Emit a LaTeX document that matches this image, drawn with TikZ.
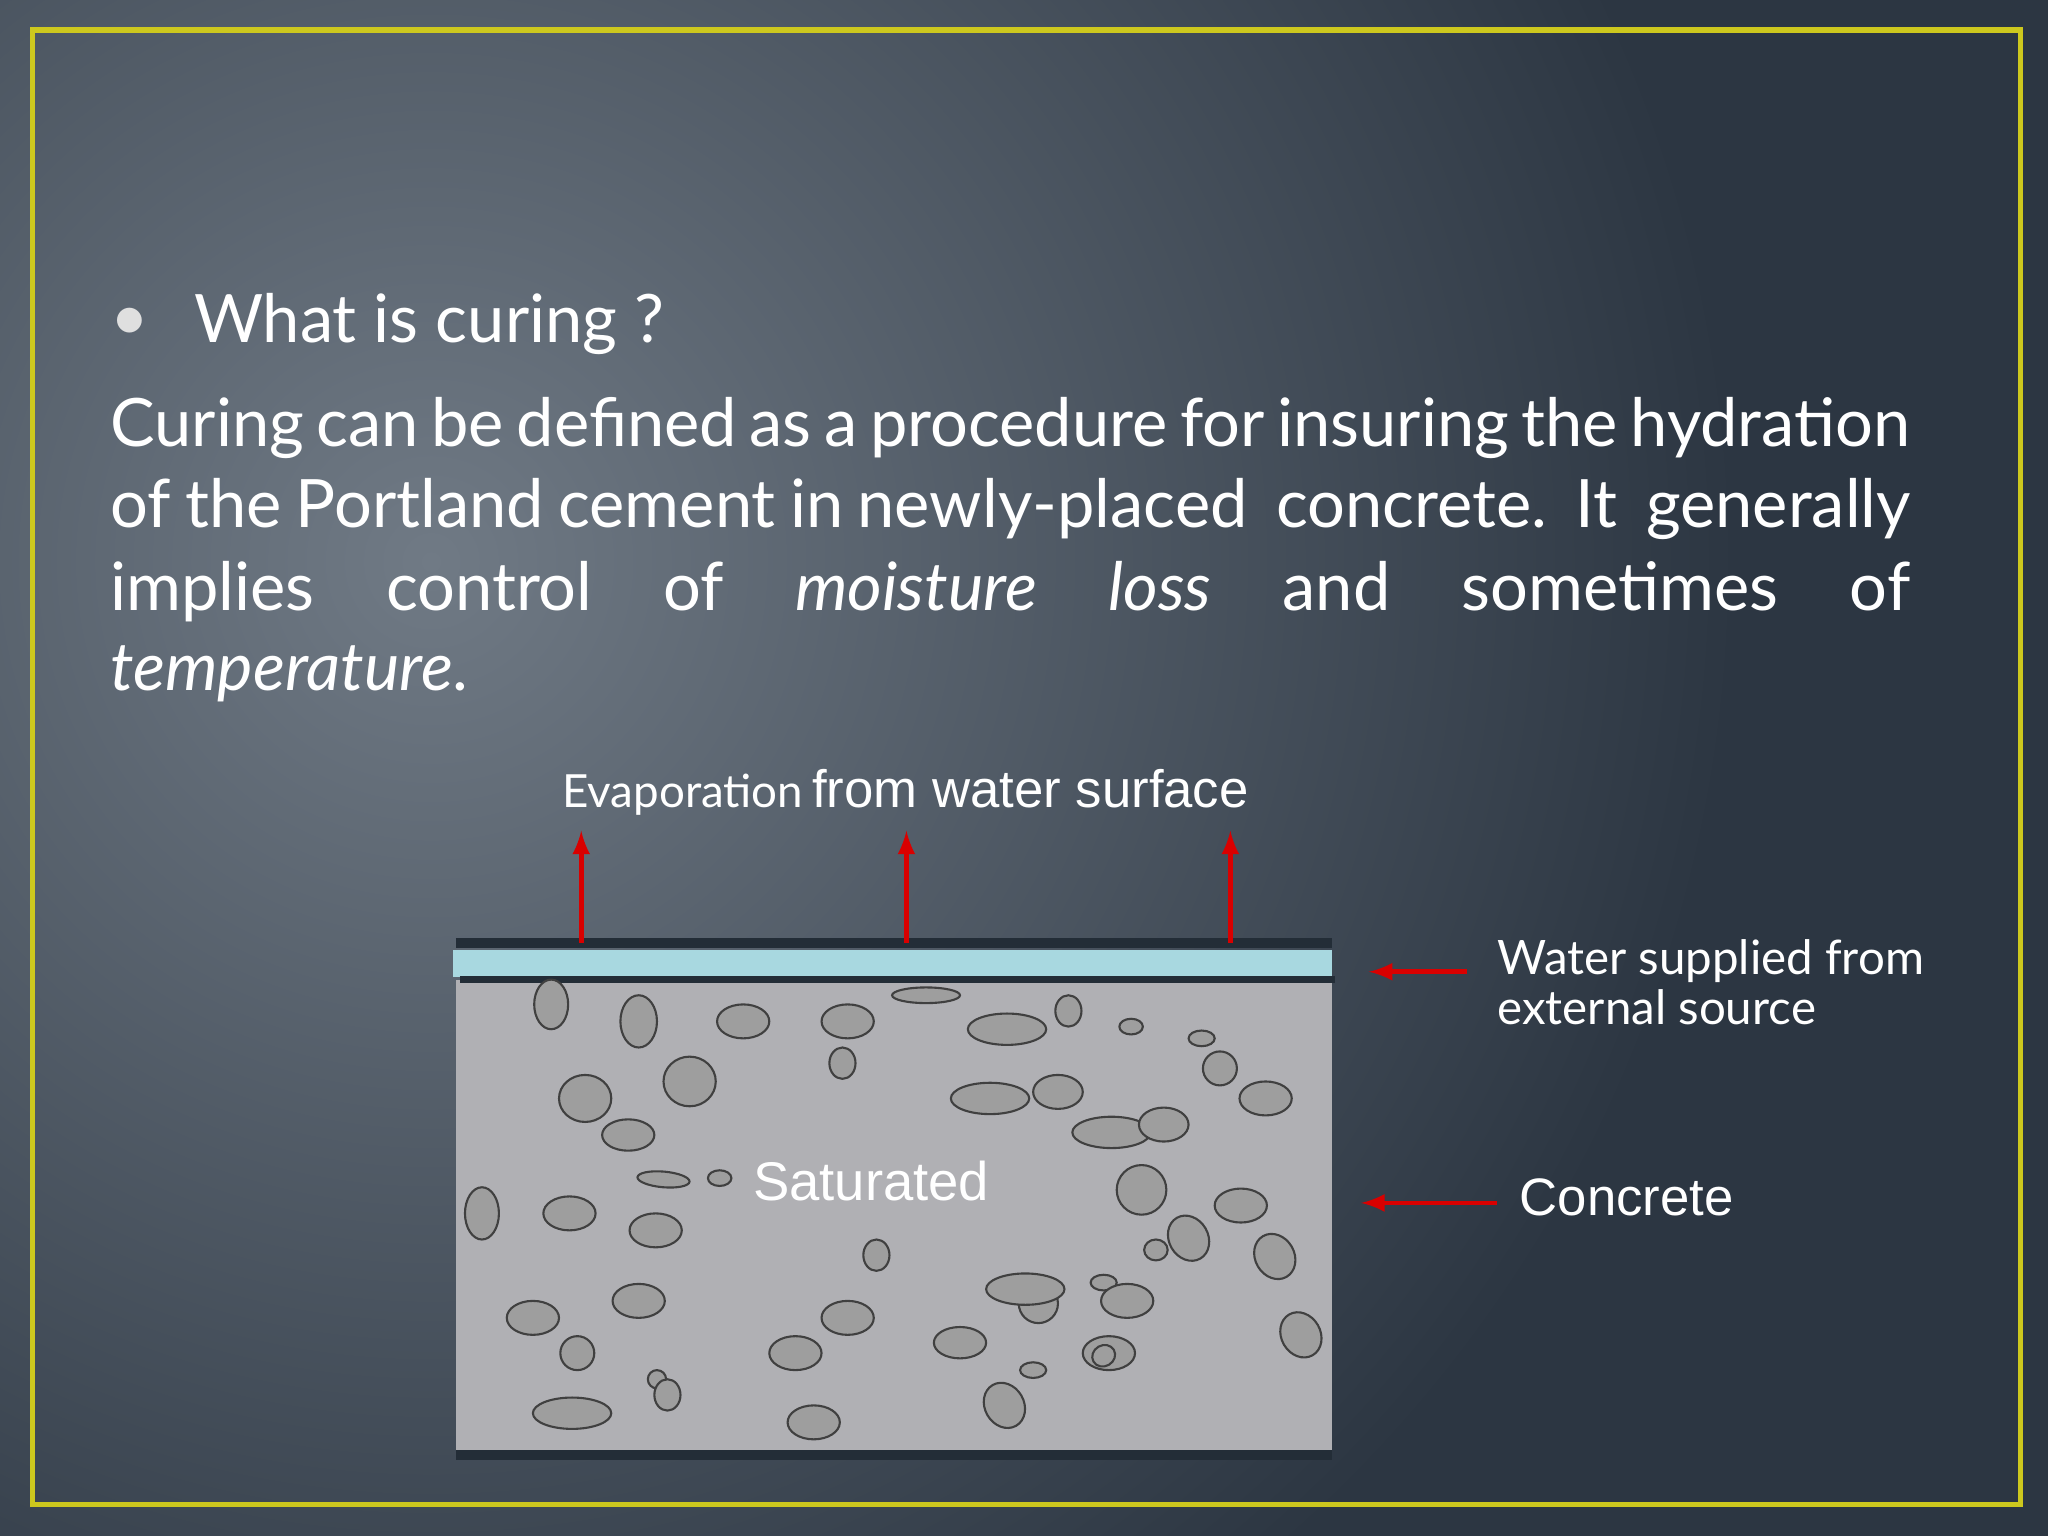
\documentclass[tikz,border=0pt]{standalone}
\usepackage{fontspec}
\setmainfont{Lato}
\newfontfamily\arialf{Liberation Sans}
\begin{document}
\begin{tikzpicture}[x=0.013061cm,y=-0.013061cm,
  stone/.style={fill=black!38!white,draw=black!75,line width=0.6pt},
  redarrow/.style={red!85!black,line width=1.3pt,-latex},
  bodytxt/.style={anchor=west,inner sep=0,text=white,font=\fontsize{19}{23}\selectfont}]
\useasboundingbox (0,0) rectangle (1568,1176);
\fill[color={rgb,255:red,44;green,54;blue,66}] (0,0) rectangle (1568,1176);
\begin{scope}
\clip (0,0) rectangle (1568,1176);
\shade[inner color={rgb,255:red,112;green,122;blue,133},outer color={rgb,255:red,44;green,54;blue,66}] (330,430) circle (1000);
\end{scope}
\draw[color={rgb,255:red,205;green,200;blue,30},line width=1.6pt] (25,23) rectangle (1547,1152);
% text
\node[bodytxt,text=white!75!gray] (bul) at (84,248) {\textbullet};
\node[bodytxt] (q) at (148,248) {What is curing ?};
\node[bodytxt] (l1) at (84,328) {\makebox[18cm][s]{Curing can be defined as a procedure for insuring the hydration}};
\node[bodytxt] (l2) at (84,390) {\makebox[18cm][s]{of the Portland cement in newly-placed\ \ concrete.\ \ It\ \ generally}};
\node[bodytxt] (l3) at (84,453) {\makebox[18cm][s]{implies control of \textit{moisture} \textit{loss} and sometimes of}};
\node[bodytxt] (l4) at (84,516) {\textit{temperature}.};
% block
\fill[color={rgb,255:red,176;green,176;blue,180}] (349,750) rectangle (1020,1112);
\fill[color={rgb,255:red,168;green,216;blue,224}] (347,727) rectangle (1020,748);
\draw[color={rgb,255:red,35;green,45;blue,55},line width=3pt] (349,722) -- (1020,722);
\draw[color={rgb,255:red,35;green,45;blue,55},line width=2pt] (352,750) -- (1022,750);
\draw[color={rgb,255:red,35;green,45;blue,55},line width=3pt] (349,1114) -- (1020,1114);
\foreach \cx/\cy/\rx/\ry/\a in {422/769/13/19/0,489/782/14/20/0,569/782/20/13/0,649/782/20/13/0,709/762/26/6/0,771/788/30/12/0,818/774/10/12/0,866/786/9/6/0,920/795/10/6/0,645/814/10/12/0,448/841/20/18/0,528/828/20/19/0,481/869/20/12/0,758/841/30/12/0,810/836/19/13/0,934/818/13/13/0,969/841/20/13/0,851/867/30/12/0,891/861/19/13/0,508/903/20/6/-5,551/902/9/6/0,369/929/13/20/0,436/929/20/13/0,502/942/20/13/0,874/911/19/19/0,950/923/20/13/0,910/948/15/18/30,885/957/9/8/0,976/962/15/18/30,671/961/10/12/0,795/998/15/15/0,785/987/30/12/0,845/982/10/6/0,863/996/20/13/0,408/1009/20/13/0,489/996/20/13/0,649/1009/20/13/0,442/1036/13/13/0,609/1036/20/13/0,735/1028/20/12/0,849/1036/20/13/0,845/1038/9/8/30,996/1022/15/18/30,791/1049/10/6/0,503/1056/7/7/0,511/1068/10/12/0,769/1076/15/18/30,438/1082/30/12/0,623/1089/20/13/0}
  \draw[stone,rotate around={\a:(\cx,\cy)}] (\cx,\cy) ellipse [x radius=\rx, y radius=\ry];
\node[text=white,font=\arialf\fontsize{15.5}{19}\selectfont] (sat) at (667,904) {Saturated};
% labels
\node[text=white,anchor=west,inner sep=0] (evap) at (430,607) {{\fontsize{13}{15}\selectfont Evaporation} {\arialf\fontsize{15}{18}\selectfont from water surface}};
\coordinate (a1s) at (445,722); \coordinate (a1e) at (445,636);
\coordinate (a2s) at (694,722); \coordinate (a2e) at (694,636);
\coordinate (a3s) at (942,722); \coordinate (a3e) at (942,636);
\draw[redarrow] (a1s) -- (a1e);
\draw[redarrow] (a2s) -- (a2e);
\draw[redarrow] (a3s) -- (a3e);
\node[text=white,anchor=west,inner sep=0,align=left,font=\fontsize{13.5}{14}\selectfont] (water) at (1146,752) {Water supplied from\\external source};
\coordinate (w1) at (1123,744); \coordinate (w2) at (1048,744);
\draw[redarrow] (w1) -- (w2);
\node[text=white,anchor=west,inner sep=0,font=\arialf\fontsize{15}{19}\selectfont] (conc) at (1163,917) {Concrete};
\coordinate (c1) at (1146,921); \coordinate (c2) at (1042,921);
\draw[redarrow] (c1) -- (c2);
\end{tikzpicture}
\end{document}
